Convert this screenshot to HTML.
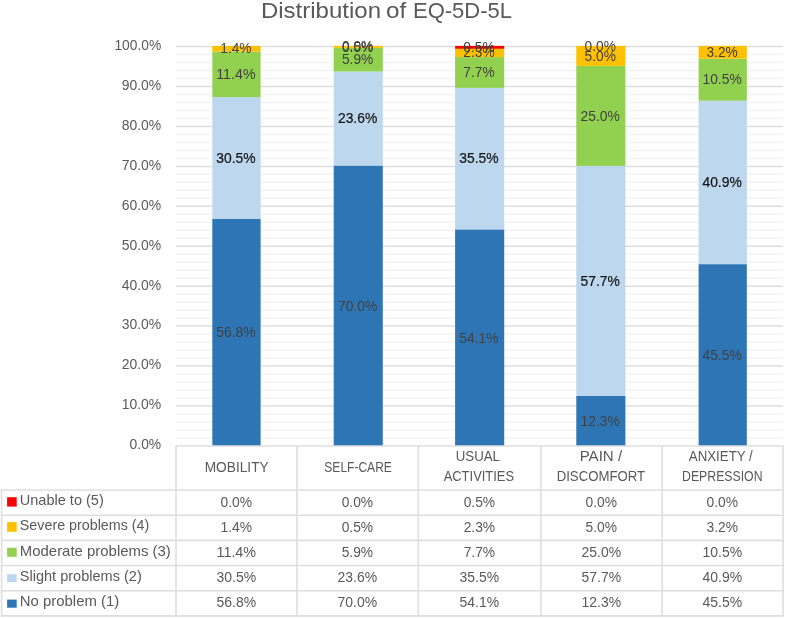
<!DOCTYPE html>
<html><head><meta charset="utf-8"><title>Distribution of EQ-5D-5L</title>
<style>
html,body{margin:0;padding:0;background:#fff;}
svg{display:block;font-family:"Liberation Sans",sans-serif;}
</style></head>
<body>
<svg width="785" height="618" viewBox="0 0 785 618">
<rect x="0" y="0" width="785" height="618" fill="#ffffff"/>
<line x1="176.0" y1="438.0" x2="783.0" y2="438.0" stroke="#f3f3f3" stroke-width="1.5"/>
<line x1="176.0" y1="430.0" x2="783.0" y2="430.0" stroke="#f3f3f3" stroke-width="1.5"/>
<line x1="176.0" y1="422.0" x2="783.0" y2="422.0" stroke="#f3f3f3" stroke-width="1.5"/>
<line x1="176.0" y1="414.0" x2="783.0" y2="414.0" stroke="#f3f3f3" stroke-width="1.5"/>
<line x1="176.0" y1="398.1" x2="783.0" y2="398.1" stroke="#f3f3f3" stroke-width="1.5"/>
<line x1="176.0" y1="390.1" x2="783.0" y2="390.1" stroke="#f3f3f3" stroke-width="1.5"/>
<line x1="176.0" y1="382.1" x2="783.0" y2="382.1" stroke="#f3f3f3" stroke-width="1.5"/>
<line x1="176.0" y1="374.1" x2="783.0" y2="374.1" stroke="#f3f3f3" stroke-width="1.5"/>
<line x1="176.0" y1="358.1" x2="783.0" y2="358.1" stroke="#f3f3f3" stroke-width="1.5"/>
<line x1="176.0" y1="350.1" x2="783.0" y2="350.1" stroke="#f3f3f3" stroke-width="1.5"/>
<line x1="176.0" y1="342.1" x2="783.0" y2="342.1" stroke="#f3f3f3" stroke-width="1.5"/>
<line x1="176.0" y1="334.1" x2="783.0" y2="334.1" stroke="#f3f3f3" stroke-width="1.5"/>
<line x1="176.0" y1="318.2" x2="783.0" y2="318.2" stroke="#f3f3f3" stroke-width="1.5"/>
<line x1="176.0" y1="310.2" x2="783.0" y2="310.2" stroke="#f3f3f3" stroke-width="1.5"/>
<line x1="176.0" y1="302.2" x2="783.0" y2="302.2" stroke="#f3f3f3" stroke-width="1.5"/>
<line x1="176.0" y1="294.2" x2="783.0" y2="294.2" stroke="#f3f3f3" stroke-width="1.5"/>
<line x1="176.0" y1="278.2" x2="783.0" y2="278.2" stroke="#f3f3f3" stroke-width="1.5"/>
<line x1="176.0" y1="270.2" x2="783.0" y2="270.2" stroke="#f3f3f3" stroke-width="1.5"/>
<line x1="176.0" y1="262.2" x2="783.0" y2="262.2" stroke="#f3f3f3" stroke-width="1.5"/>
<line x1="176.0" y1="254.2" x2="783.0" y2="254.2" stroke="#f3f3f3" stroke-width="1.5"/>
<line x1="176.0" y1="238.3" x2="783.0" y2="238.3" stroke="#f3f3f3" stroke-width="1.5"/>
<line x1="176.0" y1="230.3" x2="783.0" y2="230.3" stroke="#f3f3f3" stroke-width="1.5"/>
<line x1="176.0" y1="222.3" x2="783.0" y2="222.3" stroke="#f3f3f3" stroke-width="1.5"/>
<line x1="176.0" y1="214.3" x2="783.0" y2="214.3" stroke="#f3f3f3" stroke-width="1.5"/>
<line x1="176.0" y1="198.3" x2="783.0" y2="198.3" stroke="#f3f3f3" stroke-width="1.5"/>
<line x1="176.0" y1="190.3" x2="783.0" y2="190.3" stroke="#f3f3f3" stroke-width="1.5"/>
<line x1="176.0" y1="182.3" x2="783.0" y2="182.3" stroke="#f3f3f3" stroke-width="1.5"/>
<line x1="176.0" y1="174.3" x2="783.0" y2="174.3" stroke="#f3f3f3" stroke-width="1.5"/>
<line x1="176.0" y1="158.4" x2="783.0" y2="158.4" stroke="#f3f3f3" stroke-width="1.5"/>
<line x1="176.0" y1="150.4" x2="783.0" y2="150.4" stroke="#f3f3f3" stroke-width="1.5"/>
<line x1="176.0" y1="142.4" x2="783.0" y2="142.4" stroke="#f3f3f3" stroke-width="1.5"/>
<line x1="176.0" y1="134.4" x2="783.0" y2="134.4" stroke="#f3f3f3" stroke-width="1.5"/>
<line x1="176.0" y1="118.4" x2="783.0" y2="118.4" stroke="#f3f3f3" stroke-width="1.5"/>
<line x1="176.0" y1="110.4" x2="783.0" y2="110.4" stroke="#f3f3f3" stroke-width="1.5"/>
<line x1="176.0" y1="102.4" x2="783.0" y2="102.4" stroke="#f3f3f3" stroke-width="1.5"/>
<line x1="176.0" y1="94.4" x2="783.0" y2="94.4" stroke="#f3f3f3" stroke-width="1.5"/>
<line x1="176.0" y1="78.5" x2="783.0" y2="78.5" stroke="#f3f3f3" stroke-width="1.5"/>
<line x1="176.0" y1="70.5" x2="783.0" y2="70.5" stroke="#f3f3f3" stroke-width="1.5"/>
<line x1="176.0" y1="62.5" x2="783.0" y2="62.5" stroke="#f3f3f3" stroke-width="1.5"/>
<line x1="176.0" y1="54.5" x2="783.0" y2="54.5" stroke="#f3f3f3" stroke-width="1.5"/>
<line x1="176.0" y1="406.1" x2="783.0" y2="406.1" stroke="#dedede" stroke-width="1.5"/>
<line x1="176.0" y1="366.1" x2="783.0" y2="366.1" stroke="#dedede" stroke-width="1.5"/>
<line x1="176.0" y1="326.1" x2="783.0" y2="326.1" stroke="#dedede" stroke-width="1.5"/>
<line x1="176.0" y1="286.2" x2="783.0" y2="286.2" stroke="#dedede" stroke-width="1.5"/>
<line x1="176.0" y1="246.2" x2="783.0" y2="246.2" stroke="#dedede" stroke-width="1.5"/>
<line x1="176.0" y1="206.3" x2="783.0" y2="206.3" stroke="#dedede" stroke-width="1.5"/>
<line x1="176.0" y1="166.4" x2="783.0" y2="166.4" stroke="#dedede" stroke-width="1.5"/>
<line x1="176.0" y1="126.4" x2="783.0" y2="126.4" stroke="#dedede" stroke-width="1.5"/>
<line x1="176.0" y1="86.4" x2="783.0" y2="86.4" stroke="#dedede" stroke-width="1.5"/>
<line x1="176.0" y1="46.5" x2="783.0" y2="46.5" stroke="#dedede" stroke-width="1.5"/>
<text x="161.2" y="449.3" text-anchor="end" font-size="15.3" fill="#595959" textLength="31.6" lengthAdjust="spacingAndGlyphs">0.0%</text>
<text x="161.2" y="409.4" text-anchor="end" font-size="15.3" fill="#595959" textLength="39.5" lengthAdjust="spacingAndGlyphs">10.0%</text>
<text x="161.2" y="369.4" text-anchor="end" font-size="15.3" fill="#595959" textLength="39.5" lengthAdjust="spacingAndGlyphs">20.0%</text>
<text x="161.2" y="329.4" text-anchor="end" font-size="15.3" fill="#595959" textLength="39.5" lengthAdjust="spacingAndGlyphs">30.0%</text>
<text x="161.2" y="289.5" text-anchor="end" font-size="15.3" fill="#595959" textLength="39.5" lengthAdjust="spacingAndGlyphs">40.0%</text>
<text x="161.2" y="249.6" text-anchor="end" font-size="15.3" fill="#595959" textLength="39.5" lengthAdjust="spacingAndGlyphs">50.0%</text>
<text x="161.2" y="209.6" text-anchor="end" font-size="15.3" fill="#595959" textLength="39.5" lengthAdjust="spacingAndGlyphs">60.0%</text>
<text x="161.2" y="169.7" text-anchor="end" font-size="15.3" fill="#595959" textLength="39.5" lengthAdjust="spacingAndGlyphs">70.0%</text>
<text x="161.2" y="129.7" text-anchor="end" font-size="15.3" fill="#595959" textLength="39.5" lengthAdjust="spacingAndGlyphs">80.0%</text>
<text x="161.2" y="89.7" text-anchor="end" font-size="15.3" fill="#595959" textLength="39.5" lengthAdjust="spacingAndGlyphs">90.0%</text>
<text x="161.2" y="49.8" text-anchor="end" font-size="15.3" fill="#595959" textLength="46.8" lengthAdjust="spacingAndGlyphs">100.0%</text>
<text y="17.7" font-size="22.8" fill="#595959"><tspan x="260.9" textLength="120.2" lengthAdjust="spacingAndGlyphs">Distribution</tspan> <tspan x="386.0" textLength="20.2" lengthAdjust="spacingAndGlyphs">of</tspan> <tspan x="413.0" textLength="99" lengthAdjust="spacingAndGlyphs">EQ-5D-5L</tspan></text>
<rect x="212.30" y="218.97" width="48.30" height="227.03" fill="#2e75b6"/>
<rect x="212.30" y="97.06" width="48.30" height="121.91" fill="#bdd7ee"/>
<rect x="212.30" y="51.50" width="48.30" height="45.57" fill="#92d050"/>
<rect x="212.30" y="45.90" width="48.30" height="5.60" fill="#ffc000"/>
<text x="235.9" y="337.1" text-anchor="middle" font-size="14.4" fill="#404040" textLength="39.3" lengthAdjust="spacingAndGlyphs">56.8%</text>
<text x="235.9" y="162.6" text-anchor="middle" font-size="14.4" fill="#141414" textLength="39.3" lengthAdjust="spacingAndGlyphs" stroke="#141414" stroke-width="0.2">30.5%</text>
<text x="235.9" y="78.9" text-anchor="middle" font-size="14.4" fill="#404040" textLength="39.3" lengthAdjust="spacingAndGlyphs">11.4%</text>
<text x="235.9" y="53.3" text-anchor="middle" font-size="14.4" fill="#404040" textLength="31.3" lengthAdjust="spacingAndGlyphs">1.4%</text>
<rect x="333.70" y="165.53" width="49.10" height="280.47" fill="#2e75b6"/>
<rect x="333.70" y="71.51" width="49.10" height="94.02" fill="#bdd7ee"/>
<rect x="333.70" y="47.90" width="49.10" height="23.61" fill="#92d050"/>
<rect x="333.70" y="45.90" width="49.10" height="2.00" fill="#ffc000"/>
<text x="357.6" y="310.6" text-anchor="middle" font-size="14.4" fill="#404040" textLength="39.3" lengthAdjust="spacingAndGlyphs">70.0%</text>
<text x="357.6" y="123.3" text-anchor="middle" font-size="14.4" fill="#141414" textLength="39.3" lengthAdjust="spacingAndGlyphs" stroke="#141414" stroke-width="0.2">23.6%</text>
<text x="357.6" y="64.3" text-anchor="middle" font-size="14.4" fill="#404040" textLength="31.3" lengthAdjust="spacingAndGlyphs">5.9%</text>
<text x="357.6" y="51.5" text-anchor="middle" font-size="14.4" fill="#404040" textLength="31.3" lengthAdjust="spacingAndGlyphs">0.5%</text>
<text x="357.6" y="50.5" text-anchor="middle" font-size="14.4" fill="#404040" textLength="31.3" lengthAdjust="spacingAndGlyphs">0.0%</text>
<rect x="455.10" y="229.36" width="49.10" height="216.64" fill="#2e75b6"/>
<rect x="455.10" y="87.87" width="49.10" height="141.49" fill="#bdd7ee"/>
<rect x="455.10" y="57.09" width="49.10" height="30.78" fill="#92d050"/>
<rect x="455.10" y="47.90" width="49.10" height="9.19" fill="#ffc000"/>
<rect x="455.10" y="45.90" width="49.10" height="2.80" fill="#ff0000"/>
<text x="479.0" y="342.5" text-anchor="middle" font-size="14.4" fill="#404040" textLength="39.3" lengthAdjust="spacingAndGlyphs">54.1%</text>
<text x="479.0" y="163.4" text-anchor="middle" font-size="14.4" fill="#141414" textLength="39.3" lengthAdjust="spacingAndGlyphs" stroke="#141414" stroke-width="0.2">35.5%</text>
<text x="479.0" y="77.1" text-anchor="middle" font-size="14.4" fill="#404040" textLength="31.3" lengthAdjust="spacingAndGlyphs">7.7%</text>
<text x="479.0" y="57.1" text-anchor="middle" font-size="14.4" fill="#404040" textLength="31.3" lengthAdjust="spacingAndGlyphs">2.3%</text>
<text x="479.0" y="51.5" text-anchor="middle" font-size="14.4" fill="#404040" textLength="31.3" lengthAdjust="spacingAndGlyphs">0.5%</text>
<rect x="576.30" y="395.99" width="49.10" height="50.01" fill="#2e75b6"/>
<rect x="576.30" y="165.93" width="49.10" height="230.06" fill="#bdd7ee"/>
<rect x="576.30" y="65.90" width="49.10" height="100.03" fill="#92d050"/>
<rect x="576.30" y="45.90" width="49.10" height="20.00" fill="#ffc000"/>
<text x="600.2" y="426.0" text-anchor="middle" font-size="14.4" fill="#404040" textLength="39.3" lengthAdjust="spacingAndGlyphs">12.3%</text>
<text x="600.2" y="286.0" text-anchor="middle" font-size="14.4" fill="#141414" textLength="39.3" lengthAdjust="spacingAndGlyphs" stroke="#141414" stroke-width="0.2">57.7%</text>
<text x="600.2" y="120.5" text-anchor="middle" font-size="14.4" fill="#404040" textLength="39.3" lengthAdjust="spacingAndGlyphs">25.0%</text>
<text x="600.2" y="60.5" text-anchor="middle" font-size="14.4" fill="#404040" textLength="31.3" lengthAdjust="spacingAndGlyphs">5.0%</text>
<text x="600.2" y="50.5" text-anchor="middle" font-size="14.4" fill="#404040" textLength="31.3" lengthAdjust="spacingAndGlyphs">0.0%</text>
<rect x="698.60" y="264.14" width="48.20" height="181.86" fill="#2e75b6"/>
<rect x="698.60" y="100.66" width="48.20" height="163.48" fill="#bdd7ee"/>
<rect x="698.60" y="58.69" width="48.20" height="41.97" fill="#92d050"/>
<rect x="698.60" y="45.90" width="48.20" height="12.79" fill="#ffc000"/>
<text x="722.1" y="359.7" text-anchor="middle" font-size="14.4" fill="#404040" textLength="39.3" lengthAdjust="spacingAndGlyphs">45.5%</text>
<text x="722.1" y="187.0" text-anchor="middle" font-size="14.4" fill="#141414" textLength="39.3" lengthAdjust="spacingAndGlyphs" stroke="#141414" stroke-width="0.2">40.9%</text>
<text x="722.1" y="84.3" text-anchor="middle" font-size="14.4" fill="#404040" textLength="39.3" lengthAdjust="spacingAndGlyphs">10.5%</text>
<text x="722.1" y="56.9" text-anchor="middle" font-size="14.4" fill="#404040" textLength="31.3" lengthAdjust="spacingAndGlyphs">3.2%</text>
<line x1="175.2" y1="446.0" x2="783.8" y2="446.0" stroke="#dedede" stroke-width="1.6"/>
<line x1="0.8" y1="490.0" x2="783.8" y2="490.0" stroke="#dedede" stroke-width="1.6"/>
<line x1="0.8" y1="515.2" x2="783.8" y2="515.2" stroke="#dedede" stroke-width="1.6"/>
<line x1="0.8" y1="540.4" x2="783.8" y2="540.4" stroke="#dedede" stroke-width="1.6"/>
<line x1="0.8" y1="565.5" x2="783.8" y2="565.5" stroke="#dedede" stroke-width="1.6"/>
<line x1="0.8" y1="590.7" x2="783.8" y2="590.7" stroke="#dedede" stroke-width="1.6"/>
<line x1="0.8" y1="615.9" x2="783.8" y2="615.9" stroke="#dedede" stroke-width="1.6"/>
<line x1="176.0" y1="446.0" x2="176.0" y2="615.9" stroke="#dedede" stroke-width="1.6"/>
<line x1="297.0" y1="446.0" x2="297.0" y2="615.9" stroke="#dedede" stroke-width="1.6"/>
<line x1="418.3" y1="446.0" x2="418.3" y2="615.9" stroke="#dedede" stroke-width="1.6"/>
<line x1="540.9" y1="446.0" x2="540.9" y2="615.9" stroke="#dedede" stroke-width="1.6"/>
<line x1="662.1" y1="446.0" x2="662.1" y2="615.9" stroke="#dedede" stroke-width="1.6"/>
<line x1="783.0" y1="446.0" x2="783.0" y2="615.9" stroke="#dedede" stroke-width="1.6"/>
<line x1="1.6" y1="490.0" x2="1.6" y2="615.9" stroke="#dedede" stroke-width="1.6"/>
<text x="236.7" y="471.6" text-anchor="middle" font-size="14.4" fill="#595959" textLength="64.0" lengthAdjust="spacingAndGlyphs">MOBILITY</text>
<text x="236.3" y="607.3" text-anchor="middle" font-size="15" fill="#595959" textLength="39.6" lengthAdjust="spacingAndGlyphs">56.8%</text>
<text x="236.3" y="582.1" text-anchor="middle" font-size="15" fill="#595959" textLength="39.6" lengthAdjust="spacingAndGlyphs">30.5%</text>
<text x="236.3" y="557.0" text-anchor="middle" font-size="15" fill="#595959" textLength="39.6" lengthAdjust="spacingAndGlyphs">11.4%</text>
<text x="236.3" y="531.8" text-anchor="middle" font-size="15" fill="#595959" textLength="31.5" lengthAdjust="spacingAndGlyphs">1.4%</text>
<text x="236.3" y="506.6" text-anchor="middle" font-size="15" fill="#595959" textLength="31.5" lengthAdjust="spacingAndGlyphs">0.0%</text>
<text x="358.1" y="471.6" text-anchor="middle" font-size="14.4" fill="#595959" textLength="67.5" lengthAdjust="spacingAndGlyphs">SELF-CARE</text>
<text x="357.4" y="607.3" text-anchor="middle" font-size="15" fill="#595959" textLength="39.6" lengthAdjust="spacingAndGlyphs">70.0%</text>
<text x="357.4" y="582.1" text-anchor="middle" font-size="15" fill="#595959" textLength="39.6" lengthAdjust="spacingAndGlyphs">23.6%</text>
<text x="357.4" y="557.0" text-anchor="middle" font-size="15" fill="#595959" textLength="31.5" lengthAdjust="spacingAndGlyphs">5.9%</text>
<text x="357.4" y="531.8" text-anchor="middle" font-size="15" fill="#595959" textLength="31.5" lengthAdjust="spacingAndGlyphs">0.5%</text>
<text x="357.4" y="506.6" text-anchor="middle" font-size="15" fill="#595959" textLength="31.5" lengthAdjust="spacingAndGlyphs">0.0%</text>
<text x="477.9" y="461.0" text-anchor="middle" font-size="14.4" fill="#595959" textLength="44.2" lengthAdjust="spacingAndGlyphs">USUAL</text>
<text x="478.9" y="481.0" text-anchor="middle" font-size="14.4" fill="#595959" textLength="70.5" lengthAdjust="spacingAndGlyphs">ACTIVITIES</text>
<text x="479.4" y="607.3" text-anchor="middle" font-size="15" fill="#595959" textLength="39.6" lengthAdjust="spacingAndGlyphs">54.1%</text>
<text x="479.4" y="582.1" text-anchor="middle" font-size="15" fill="#595959" textLength="39.6" lengthAdjust="spacingAndGlyphs">35.5%</text>
<text x="479.4" y="557.0" text-anchor="middle" font-size="15" fill="#595959" textLength="31.5" lengthAdjust="spacingAndGlyphs">7.7%</text>
<text x="479.4" y="531.8" text-anchor="middle" font-size="15" fill="#595959" textLength="31.5" lengthAdjust="spacingAndGlyphs">2.3%</text>
<text x="479.4" y="506.6" text-anchor="middle" font-size="15" fill="#595959" textLength="31.5" lengthAdjust="spacingAndGlyphs">0.5%</text>
<text x="600.9" y="461.0" text-anchor="middle" font-size="14.4" fill="#595959" textLength="42.5" lengthAdjust="spacingAndGlyphs">PAIN /</text>
<text x="600.9" y="481.0" text-anchor="middle" font-size="14.4" fill="#595959" textLength="88.5" lengthAdjust="spacingAndGlyphs">DISCOMFORT</text>
<text x="601.3" y="607.3" text-anchor="middle" font-size="15" fill="#595959" textLength="39.6" lengthAdjust="spacingAndGlyphs">12.3%</text>
<text x="601.3" y="582.1" text-anchor="middle" font-size="15" fill="#595959" textLength="39.6" lengthAdjust="spacingAndGlyphs">57.7%</text>
<text x="601.3" y="557.0" text-anchor="middle" font-size="15" fill="#595959" textLength="39.6" lengthAdjust="spacingAndGlyphs">25.0%</text>
<text x="601.3" y="531.8" text-anchor="middle" font-size="15" fill="#595959" textLength="31.5" lengthAdjust="spacingAndGlyphs">5.0%</text>
<text x="601.3" y="506.6" text-anchor="middle" font-size="15" fill="#595959" textLength="31.5" lengthAdjust="spacingAndGlyphs">0.0%</text>
<text x="720.8" y="461.0" text-anchor="middle" font-size="14.4" fill="#595959" textLength="64.0" lengthAdjust="spacingAndGlyphs">ANXIETY /</text>
<text x="722.3" y="481.0" text-anchor="middle" font-size="14.4" fill="#595959" textLength="80.5" lengthAdjust="spacingAndGlyphs">DEPRESSION</text>
<text x="722.3" y="607.3" text-anchor="middle" font-size="15" fill="#595959" textLength="39.6" lengthAdjust="spacingAndGlyphs">45.5%</text>
<text x="722.3" y="582.1" text-anchor="middle" font-size="15" fill="#595959" textLength="39.6" lengthAdjust="spacingAndGlyphs">40.9%</text>
<text x="722.3" y="557.0" text-anchor="middle" font-size="15" fill="#595959" textLength="39.6" lengthAdjust="spacingAndGlyphs">10.5%</text>
<text x="722.3" y="531.8" text-anchor="middle" font-size="15" fill="#595959" textLength="31.5" lengthAdjust="spacingAndGlyphs">3.2%</text>
<text x="722.3" y="506.6" text-anchor="middle" font-size="15" fill="#595959" textLength="31.5" lengthAdjust="spacingAndGlyphs">0.0%</text>
<rect x="7.10" y="599.60" width="9.60" height="8.10" fill="#2e75b6"/>
<text x="19.8" y="605.8" text-anchor="start" font-size="14.4" fill="#595959" textLength="99.5" lengthAdjust="spacingAndGlyphs">No problem (1)</text>
<rect x="7.10" y="574.20" width="9.60" height="8.00" fill="#bdd7ee"/>
<text x="19.8" y="580.6" text-anchor="start" font-size="14.4" fill="#595959" textLength="122.0" lengthAdjust="spacingAndGlyphs">Slight problems (2)</text>
<rect x="7.10" y="547.80" width="9.60" height="9.00" fill="#92d050"/>
<text x="19.8" y="555.5" text-anchor="start" font-size="14.4" fill="#595959" textLength="151.0" lengthAdjust="spacingAndGlyphs">Moderate problems (3)</text>
<rect x="7.10" y="522.10" width="9.60" height="9.70" fill="#ffc000"/>
<text x="19.8" y="530.3" text-anchor="start" font-size="14.4" fill="#595959" textLength="129.5" lengthAdjust="spacingAndGlyphs">Severe problems (4)</text>
<rect x="7.10" y="497.20" width="9.60" height="9.40" fill="#ff0000"/>
<text x="19.8" y="505.1" text-anchor="start" font-size="14.4" fill="#595959" textLength="84.0" lengthAdjust="spacingAndGlyphs">Unable to (5)</text>
</svg>
</body></html>
